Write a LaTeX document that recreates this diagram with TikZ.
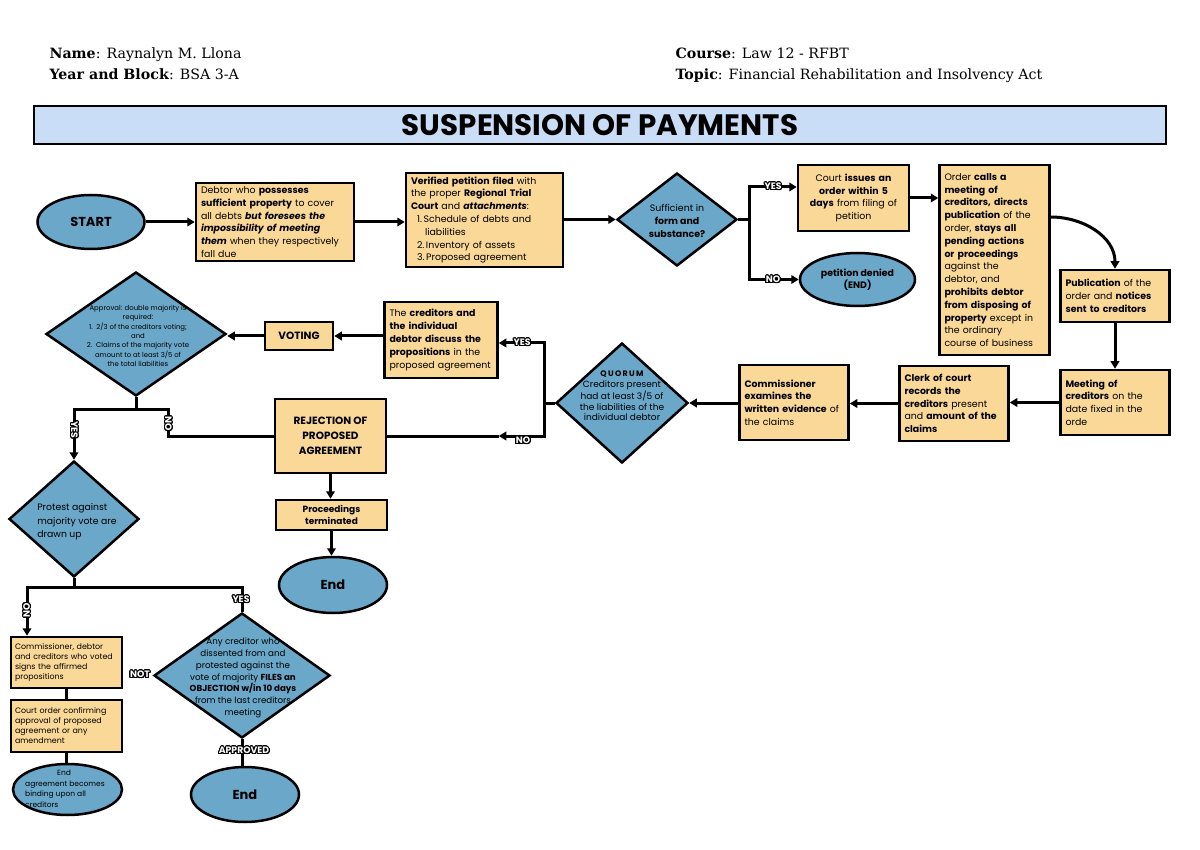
\documentclass[tikz,border=0pt]{standalone}
\usepackage{fontspec}
\usepackage{graphicx}
\usepackage{contour}
\setmainfont{Poppins}
\newfontfamily\headfont{DejaVu Serif}
\usetikzlibrary{shapes.geometric,arrows.meta,calc}
\definecolor{boxfill}{HTML}{FAD898}
\definecolor{bluefill}{HTML}{6AA7C8}
\definecolor{titlefill}{HTML}{C9DDF6}
\contourlength{1pt}
\contournumber{24}
\newcommand{\lbl}[1]{\contour{black}{\textcolor{white}{#1}}}
\tikzset{
  fbox/.style={draw, line width=2.5pt, fill=boxfill, inner xsep=5pt, inner ysep=2pt,
    font=\fontsize{9.4}{12.8}\selectfont, align=left},
  bshape/.style={draw, line width=2.5pt, fill=bluefill, inner sep=0pt},
  ellip/.style={bshape, ellipse},
  dmd/.style={bshape, diamond},
  dtext/.style={inner sep=0pt, align=center},
  conn/.style={line width=3pt},
  arr/.style={conn, -{Triangle[length=7.5pt,width=8.5pt]}},
  lab/.style={inner sep=0pt, font=\fontsize{9.3}{10}\selectfont\bfseries},
  head/.style={anchor=base west, font=\headfont\fontsize{14.2}{16}\selectfont}
}
\begin{document}
\begin{tikzpicture}[x=1pt,y=-1pt]
\useasboundingbox (0,0) rectangle (1200,850);
\fill[white] (0,0) rectangle (1200,850);

% header
\node[head] (name) at (46,59) {\textbf{Name}: Raynalyn M. Llona};
\node[head] (yb) at (46,80) {\textbf{Year and Block}: BSA 3-A};
\node[head] (course) at (672,59) {\textbf{Course}: Law 12 - RFBT};
\node[head] (topic) at (672,80) {\textbf{Topic}: Financial Rehabilitation and Insolvency Act};

\node[draw, line width=2.5pt, fill=titlefill, minimum width=1132, minimum height=38, inner sep=0pt] (title) at (600,125)
  {\resizebox{396pt}{21pt}{\bfseries SUSPENSION OF PAYMENTS}};

% top row
\node[ellip, minimum width=107, minimum height=54, font=\fontsize{13}{14}\selectfont\bfseries] (start) at (91,222) {START};

\node[fbox, minimum width=158, minimum height=78, text width=148] (debtor) at (275,222)
{Debtor who \textbf{possesses}\\
\textbf{sufficient property} to cover\\
all debts \textbf{\textit{but foresees the}}\\
\textbf{\textit{impossibility of meeting}}\\
\textbf{\textit{them}} when they respectively\\
fall due};

\node[fbox, minimum width=157, minimum height=94, text width=147] (verif) at (484.5,220)
{\textbf{Verified petition filed} with\\
the proper \textbf{Regional Trial}\\
\textbf{Court} and \textbf{\textit{attachments}}:\\
\hspace*{6pt}1.\,Schedule of debts and\\
\hspace*{14pt}liabilities\\
\hspace*{6pt}2.\,Inventory of assets\\
\hspace*{6pt}3.\,Proposed agreement};

\node[dmd, minimum width=120, minimum height=93] (suff) at (677,219.5) {};
\node[dtext, font=\fontsize{9.4}{12.8}\selectfont] (sufft) at (677,221) {Sufficient in\\\textbf{form and}\\\textbf{substance?}};

\node[fbox, align=center, minimum width=109, minimum height=66, text width=101] (court) at (853.5,198)
{Court \textbf{issues an}\\\textbf{order within 5}\\\textbf{days} from filing of\\petition};

\node[ellip, minimum width=115, minimum height=53, align=center, font=\fontsize{9.4}{12.5}\selectfont\bfseries] (denied) at (857.5,279.5)
{petition denied\\(END)};

\node[fbox, minimum width=109, minimum height=190, text width=100] (order) at (994.5,260)
{Order \textbf{calls a}\\
\textbf{meeting of}\\
\textbf{creditors, directs}\\
\textbf{publication} of the\\
order, \textbf{stays all}\\
\textbf{pending actions}\\
\textbf{or proceedings}\\
against the\\
debtor, and\\
\textbf{prohibits debtor}\\
\textbf{from disposing of}\\
\textbf{property} except in\\
the ordinary\\
course of business};

\node[fbox, minimum width=108, minimum height=52, text width=99] (pub) at (1115,296)
{\textbf{Publication} of the\\order and \textbf{notices}\\\textbf{sent to creditors}};

\node[fbox, minimum width=108, minimum height=65, text width=99] (meet) at (1115,402.5)
{\textbf{Meeting of}\\\textbf{creditors} on the\\date fixed in the\\orde};

\node[fbox, minimum width=108, minimum height=75, text width=99] (clerk) at (954,403.5)
{\textbf{Clerk of court}\\\textbf{records the}\\\textbf{creditors} present\\and \textbf{amount of the}\\\textbf{claims}};

\node[fbox, minimum width=108, minimum height=75, text width=99] (comm) at (794,402.5)
{\textbf{Commissioner}\\\textbf{examines the}\\\textbf{written evidence} of\\the claims};

\node[dmd, minimum width=132, minimum height=120] (quor) at (622,403) {};
\node[dtext, font=\fontsize{9}{10.8}\selectfont] (quort) at (622,396)
{{\fontsize{8}{10.8}\selectfont\bfseries Q\,U\,O\,R\,U\,M}\\Creditors present\\had at least 3/5 of\\the liabilities of the\\individual debtor};

\node[fbox, minimum width=112, minimum height=76, text width=103] (disc) at (441,340)
{The \textbf{creditors and}\\\textbf{the individual}\\\textbf{debtor discuss the}\\\textbf{propositions} in the\\proposed agreement};

\node[fbox, align=center, minimum width=68, minimum height=28, font=\fontsize{10.5}{12}\selectfont\bfseries] (vote) at (299,336) {VOTING};

\node[dmd, minimum width=180, minimum height=124] (appr) at (136,334) {};
\node[dtext, font=\fontsize{6.9}{9.4}\selectfont] (apprt) at (138,336)
{Approval: double majority is\\required:\\1.\ \ 2/3 of the creditors voting;\\and\\2.\ \ Claims of the majority vote\\amount to at least 3/5 of\\the total liabilities};

\node[fbox, align=center, minimum width=111, minimum height=74, font=\fontsize{10.5}{15}\selectfont\bfseries] (rej) at (330.5,436)
{REJECTION OF\\PROPOSED\\AGREEMENT};

\node[fbox, align=center, minimum width=111, minimum height=30, font=\fontsize{9}{12.5}\selectfont\bfseries] (proc) at (331.5,515)
{Proceedings\\terminated};

\node[ellip, minimum width=108, minimum height=56, font=\fontsize{13}{14}\selectfont\bfseries] (end1) at (333,585) {End};

\node[dmd, minimum width=130, minimum height=116] (prot) at (74,519) {};
\node[dtext, align=left, font=\fontsize{9.3}{13.5}\selectfont] (prott) at (77,522)
{Protest against\\majority vote are\\drawn up};

\node[fbox, minimum width=111, minimum height=51, text width=103, inner xsep=4pt, font=\fontsize{7.9}{10}\selectfont] (cb) at (66.5,662.5)
{Commissioner, debtor\\and creditors who voted\\signs the affirmed\\propositions};

\node[fbox, minimum width=111, minimum height=52, text width=103, inner xsep=4pt, font=\fontsize{7.9}{10}\selectfont] (co) at (66.5,726)
{Court order confirming\\approval of proposed\\agreement or any\\amendment};

\node[ellip, minimum width=109, minimum height=51] (ea) at (67.5,789.5) {};
\node[dtext, align=left, font=\fontsize{7.5}{10.5}\selectfont] (eat) at (65,789)
{\hspace*{32pt}End\\agreement becomes\\binding upon all\\creditors};

\node[dmd, minimum width=176, minimum height=125] (anyc) at (242,675.5) {};
\node[dtext, font=\fontsize{8.7}{11.8}\selectfont] (anyct) at (243,678)
{Any creditor who\\dissented from and\\protested against the\\vote of majority \textbf{FILES an}\\\textbf{OBJECTION w/in 10 days}\\from the last creditors\\meeting};

\node[ellip, minimum width=108, minimum height=55, font=\fontsize{13}{14}\selectfont\bfseries] (end2) at (245,794.5) {End};

% connectors
\draw[arr] (start.east) -- (start.east -| debtor.west);
\draw[arr] (debtor.east) -- (debtor.east -| verif.west);
\draw[arr] (verif.east |- suff.west) -- (suff.west);
\coordinate (j1) at ($(suff.east)+(11,0)$);
\draw[conn] (suff.east) -- (j1);
\draw[arr] (j1) |- ([yshift=11pt]court.west);
\draw[arr] (j1) |- (denied.west);
\node[lab] (lyes1) at (773,187) {\lbl{YES}};
\node[lab] (lno1) at (773,280) {\lbl{NO}};

\draw[arr] (court.east) -- (court.east -| order.west);
\draw[arr] ([yshift=43pt]order.east) to[out=0,in=90] (pub.north);
\draw[arr] (pub.south) -- (meet.north);
\draw[arr] (meet.west) -- (meet.west -| clerk.east);
\draw[arr] (clerk.west) -- (clerk.west -| comm.east);
\draw[arr] (comm.west |- quor.east) -- (quor.east);

\coordinate (j2) at ($(quor.west)+(-10,0)$);
\draw[conn] (quor.west) -- (j2);
\draw[arr] (j2) |- ([yshift=-3pt]disc.east);
\draw[arr] (j2) |- (rej.east -| disc.east);
\draw[conn] (rej.east -| disc.east) -- (rej.east);
\node[lab] (lyes2) at (522,343) {\lbl{YES}};
\node[lab] (lno2) at (523,441) {\lbl{NO}};

\draw[arr] (disc.west |- vote.east) -- (vote.east);
\draw[arr] (vote.west) -- (vote.west -| appr.east);

\coordinate (j3) at ($(appr.south)+(0,12)$);
\coordinate (j4) at (168,436);
\draw[conn] (appr.south) -- (j3);
\draw[arr] (j3) -| (prot.north);
\draw[conn] (j3) -| (j4) -- (rej.west);
\node[lab, rotate=-90] (lyes3) at (74,430) {\lbl{YES}};
\node[lab, rotate=-90] (lno3) at (168,424) {\lbl{NO}};

\draw[arr] (rej.south) -- (rej.south |- proc.north);
\draw[arr] (proc.south) -- (proc.south |- end1.north);

\coordinate (j5) at ($(prot.south)+(0,9)$);
\draw[conn] (prot.south) -- (j5);
\draw[arr] (j5) -| ([xshift=-39.5pt]cb.north);
\draw[conn] (j5) -| (anyc.north);
\draw[conn] (cb.south) -- (co.north);
\draw[conn] (co.south) -- (co.south |- ea.north);
\draw[conn] (anyc.south) -- (anyc.south |- end2.north);
\node[lab, rotate=90] (lno4) at (27,610) {\lbl{NO}};
\node[lab] (lyes4) at (241,600) {\lbl{YES}};
\node[lab] (lnot) at (140,675) {\lbl{NOT}};
\node[lab] (lappr) at (244,751) {\lbl{APPROVED}};
\end{tikzpicture}
\end{document}
